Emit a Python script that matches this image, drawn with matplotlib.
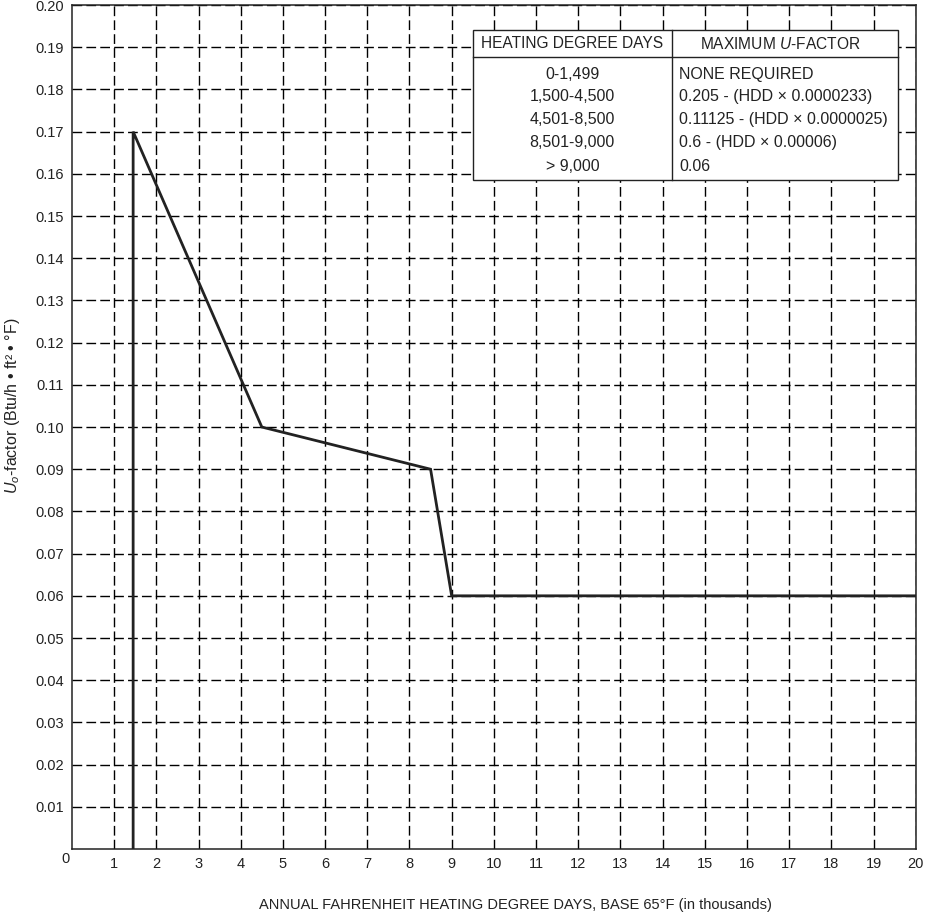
import matplotlib
matplotlib.use("Agg")
import matplotlib.pyplot as plt
from matplotlib.patches import Rectangle

plt.rcParams["font.family"] = ["Liberation Sans", "DejaVu Sans"]
plt.rcParams["mathtext.fontset"] = "custom"
plt.rcParams["mathtext.rm"] = "Liberation Sans"
plt.rcParams["mathtext.it"] = "Liberation Sans:italic"

# U-factor curve (HDD in thousands)
hdd = [1.45, 1.45, 4.5, 8.5, 9.0, 20.0]
u_factor = [0.0, 0.17, 0.10, 0.09, 0.06, 0.06]

x_ticks = list(range(1, 21))
y_ticks = [round(0.01 * i, 2) for i in range(1, 21)]

table_ranges = ["0-1,499", "1,500-4,500", "4,501-8,500", "8,501-9,000", "> 9,000"]
table_formulas = [
    "NONE REQUIRED",
    "0.205 - (HDD \u00d7 0.0000233)",
    "0.11125 - (HDD \u00d7 0.0000025)",
    "0.6 - (HDD \u00d7 0.00006)",
    "0.06",
]

fig = plt.figure(figsize=(9.25, 9.14), dpi=100)
ax = fig.add_axes([0.0778, 0.0711, 0.9122, 0.9234])

ax.plot(hdd, u_factor, color="#222222", lw=2.0, solid_joinstyle="miter", zorder=3)

ax.set_xlim(0, 20)
ax.set_ylim(0, 0.20)
ax.set_xticks(x_ticks)
ax.set_yticks(y_ticks)
ax.set_xticklabels([str(t) for t in x_ticks])
ax.set_yticklabels([f"{t:.2f}" for t in y_ticks])
ax.tick_params(length=0, labelsize=10.5, colors="#222222", pad=6)
ax.grid(True, color="black", lw=1.0, linestyle=(0, (7, 3)))
for s in ax.spines.values():
    s.set_color("#222222")
    s.set_linewidth(1.1)

ax.text(-0.003, -0.004, "0", transform=ax.transAxes, ha="right", va="top",
        fontsize=10.5, color="#222222")

fig.text(515 / 925, 1 - 905 / 914,
         "ANNUAL FAHRENHEIT HEATING DEGREE DAYS, BASE 65\u00b0F (in thousands)",
         ha="center", va="center", fontsize=10.5, color="#222222")
fig.text(13 / 925, 1 - 406 / 914,
         "$U_o$-factor (Btu/h \u2022 ft\u00b2 \u2022 \u00b0F)",
         rotation=90, ha="center", va="center", fontsize=11.5, color="#222222")

# table box
x0, x1, xm = 0.475, 0.979, 0.711
y0, y1, yh = 0.793, 0.970, 0.938
ax.add_patch(Rectangle((x0, y0), x1 - x0, y1 - y0, transform=ax.transAxes,
                       facecolor="white", edgecolor="#222222", lw=1.0, zorder=5))
ax.plot([x0, x1], [yh, yh], transform=ax.transAxes, color="#222222", lw=1.0, zorder=6)
ax.plot([xm, xm], [y0, y1], transform=ax.transAxes, color="#222222", lw=1.0, zorder=6)

tfs = 11.5
ax.text((x0 + xm) / 2, (y1 + yh) / 2, "HEATING DEGREE DAYS", transform=ax.transAxes,
        ha="center", va="center", fontsize=11.2, color="#222222", zorder=7)
ax.text((xm + x1) / 2 - 0.005, (y1 + yh) / 2, r"MAXIMUM $\it{U}$-FACTOR",
        transform=ax.transAxes, ha="center", va="center", fontsize=11.2,
        color="#222222", zorder=7)

row_y = [1 - (74 - 5) / 844, 1 - (96 - 5) / 844, 1 - (119 - 5) / 844,
         1 - (142 - 5) / 844, 1 - (166 - 5) / 844]
for i, (r, f) in enumerate(zip(table_ranges, table_formulas)):
    ax.text((x0 + xm) / 2, row_y[i], r, transform=ax.transAxes, ha="center",
            va="center", fontsize=tfs, color="#222222", zorder=7)
    ax.text(xm + 0.009, row_y[i], f, transform=ax.transAxes, ha="left",
            va="center", fontsize=tfs, color="#222222", zorder=7)

fig.savefig("out.png", dpi=100)
